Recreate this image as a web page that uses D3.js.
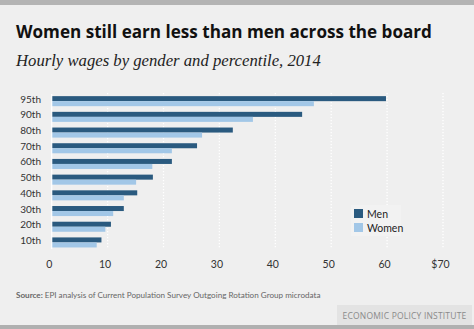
<!DOCTYPE html>
<html>
<head>
<meta charset="utf-8">
<script src="https://cdn.jsdelivr.net/npm/d3@7"></script>
<style>
  html, body { margin: 0; padding: 0; background: #efefef; }
  svg { display: block; }
</style>
</head>
<body>
<svg id="chart" width="474" height="329"></svg>
<script>
// chart data
const percentiles = ['95th', '90th', '80th', '70th', '60th', '50th', '40th', '30th', '20th', '10th'];
const men   = [59.8, 44.8, 32.4, 26.0, 21.5, 18.1, 15.3, 12.9, 10.6, 8.9];
const women = [46.9, 36.0, 26.9, 21.5, 18.0, 15.1, 12.9, 11.0, 9.6, 8.05];
const seriesNames = ['Men', 'Women'];
const xTicks = [0, 10, 20, 30, 40, 50, 60, 70];

const colors = { Men: '#2a5a7f', Women: '#a2c7e7' };

const svg = d3.select('#chart');
const W = 474, H = 329;

// frame
svg.append('rect').attr('width', W).attr('height', H).attr('fill', '#efefef');
svg.append('rect').attr('width', W).attr('height', 5).attr('fill', '#b4b4b4');
svg.append('rect').attr('y', H - 4).attr('width', W).attr('height', 4).attr('fill', '#b0b0b0');

// titles
svg.append('text')
   .attr('x', 16).attr('y', 37.5)
   .style('font-family', '"Open Sans", sans-serif').style('font-weight', 700)
   .style('font-size', '17.1px').attr('fill', '#111')
   .text('Women still earn less than men across the board');
svg.append('text')
   .attr('x', 16).attr('y', 65.5)
   .style('font-family', '"Liberation Serif", serif').style('font-style', 'italic')
   .style('font-size', '16.7px').attr('fill', '#222')
   .text('Hourly wages by gender and percentile, 2014');

// scales
let x = d3.scaleLinear().domain([0, 70]).range([51.7, 443]);
let y = d3.scaleBand().domain(percentiles).range([93, 250.6]).paddingInner(0.36).paddingOuter(0.2);
let sub = d3.scaleBand().domain(seriesNames).range([0, y.bandwidth()]);

// dotted gridlines
svg.append('g').selectAll('line').data(xTicks.slice(1)).enter()
   .append('line')
   .attr('x1', function(d) { return x(d) }).attr('x2', function(d) { return x(d) })
   .attr('y1', 93).attr('y2', 249)
   .attr('stroke', '#ffffff').attr('stroke-width', 1.3)
   .attr('stroke-dasharray', '1.3,1.7');

// bars
let rows = percentiles.map(function(p, i) { return { p: p, Men: men[i], Women: women[i] } });
let g = svg.append('g').selectAll('g').data(rows).enter()
   .append('g').attr('transform', function(d) { return 'translate(0,' + y(d.p) + ')' });
g.selectAll('rect')
   .data(function(d) { return seriesNames.map(function(s) { return { s: s, v: d[s] } }) })
   .enter().append('rect')
   .attr('x', x(0))
   .attr('y', function(d) { return sub(d.s) })
   .attr('width', function(d) { return x(d.v) - x(0) })
   .attr('height', sub.bandwidth())
   .attr('fill', function(d) { return colors[d.s] });

// zero line
svg.append('line')
   .attr('x1', x(0)).attr('x2', x(0)).attr('y1', 94).attr('y2', 249)
   .attr('stroke', '#ffffff').attr('stroke-width', 1.2);

// y axis labels
let yAxis = d3.axisLeft(y).tickSize(0).tickPadding(0);
svg.append('g').attr('transform', 'translate(41,0)').call(yAxis)
   .call(function(a) { a.select('.domain').remove() })
   .selectAll('text')
   .attr('dy', null)
   .attr('y', -y.bandwidth() / 2 + sub.bandwidth() / 2)
   .attr('dominant-baseline', 'central')
   .style('font-family', 'Lato, sans-serif').style('font-size', '10px').attr('fill', '#333');

// x axis labels
let xAxis = d3.axisBottom(x).tickValues(xTicks).tickSize(0)
   .tickFormat(function(d) { return d === 70 ? '$70' : d });
svg.append('g').attr('transform', 'translate(-3,258)').call(xAxis)
   .call(function(a) { a.select('.domain').remove() })
   .selectAll('text')
   .style('font-family', 'Lato, sans-serif').style('font-size', '10.5px').attr('fill', '#333');

// legend
let lg = svg.append('g').attr('transform', 'translate(354,209)');
lg.append('rect').attr('x', -3).attr('y', -4).attr('width', 50).attr('height', 31).attr('fill', '#f2f2f2');
seriesNames.forEach(function(s, i) {
  lg.append('rect').attr('x', 0).attr('y', i * 14).attr('width', 9).attr('height', 9).attr('fill', colors[s]);
  lg.append('text').attr('x', 13).attr('y', i * 14 + 4.5).attr('dominant-baseline', 'central')
    .style('font-family', 'Lato, sans-serif').style('font-size', '10.5px').attr('fill', '#222')
    .text(s);
});

// source
let src = svg.append('text').attr('x', 16).attr('y', 298)
   .style('font-family', 'Lato, sans-serif').style('font-size', '8.1px').attr('fill', '#666');
src.append('tspan').style('font-weight', 700).text('Source: ');
src.append('tspan').text('EPI analysis of Current Population Survey Outgoing Rotation Group microdata');

// EPI tag
svg.append('rect').attr('x', 337).attr('y', 305).attr('width', 135).attr('height', 20).attr('fill', '#e3e3e3');
svg.append('text').attr('x', 404.5).attr('y', 315.5).attr('text-anchor', 'middle')
   .attr('dominant-baseline', 'central')
   .style('font-family', '"Open Sans", sans-serif').style('font-size', '8.5px')
   .style('letter-spacing', '0.2px').attr('fill', '#8a8a8a')
   .text('ECONOMIC POLICY INSTITUTE');
</script>
</body>
</html>
